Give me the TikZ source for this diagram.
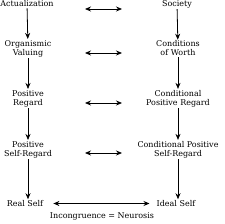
\documentclass[tikz,border=0pt]{standalone}
\usepackage{fontspec}
\setmainfont{DejaVu Serif}
\usetikzlibrary{arrows.meta}

\begin{document}
\begin{tikzpicture}[x=1pt, y=-1pt, >={Stealth[length=6pt,width=5pt]},
    every node/.style={font=\fontsize{8}{9}\selectfont, align=center, inner sep=1pt},
    link/.style={->, line width=0.8pt},
    both/.style={<->, line width=0.8pt}]
    \useasboundingbox (0,0) rectangle (225,224);

    % left column
    \node (act) at (27,4) {Actualization};
    \node (org) at (28,48.5) {Organismic\\Valuing};
    \node (pr) at (28,98.5) {Positive\\Regard};
    \node (psr) at (28,149.5) {Positive\\Self-Regard};
    \node (real) at (25,203.5) {Real Self};

    % right column
    \node (soc) at (177,4) {Society};
    \node (cow) at (178,48.5) {Conditions\\of Worth};
    \node (cpr) at (178,98.5) {Conditional\\Positive Regard};
    \node (cpsr) at (178,149.5) {Conditional Positive\\Self-Regard};
    \node (ideal) at (176,203.5) {Ideal Self};

    \node (inc) at (102,216) {Incongruence = Neurosis};

    \draw[link] (act) -- (org);
    \draw[link] (org) -- (pr);
    \draw[link] (pr) -- (psr);
    \draw[link] (psr) -- (real.north -| psr);

    \draw[link] (soc) -- (cow);
    \draw[link] (cow) -- (cpr);
    \draw[link] (cpr) -- (cpsr);
    \draw[link] (cpsr) -- (ideal.north -| cpsr);

    % two-way arrows between the columns
    \foreach \y/\n in {9/a, 53/b, 103/c, 153/d} {
        \coordinate (l\n) at (85,\y);
        \coordinate (r\n) at (122,\y);
        \draw[both] (l\n) -- (r\n);
    }

    \draw[both, shorten <=9pt, shorten >=6pt] (real.east) -- (ideal.west);
\end{tikzpicture}
\end{document}
